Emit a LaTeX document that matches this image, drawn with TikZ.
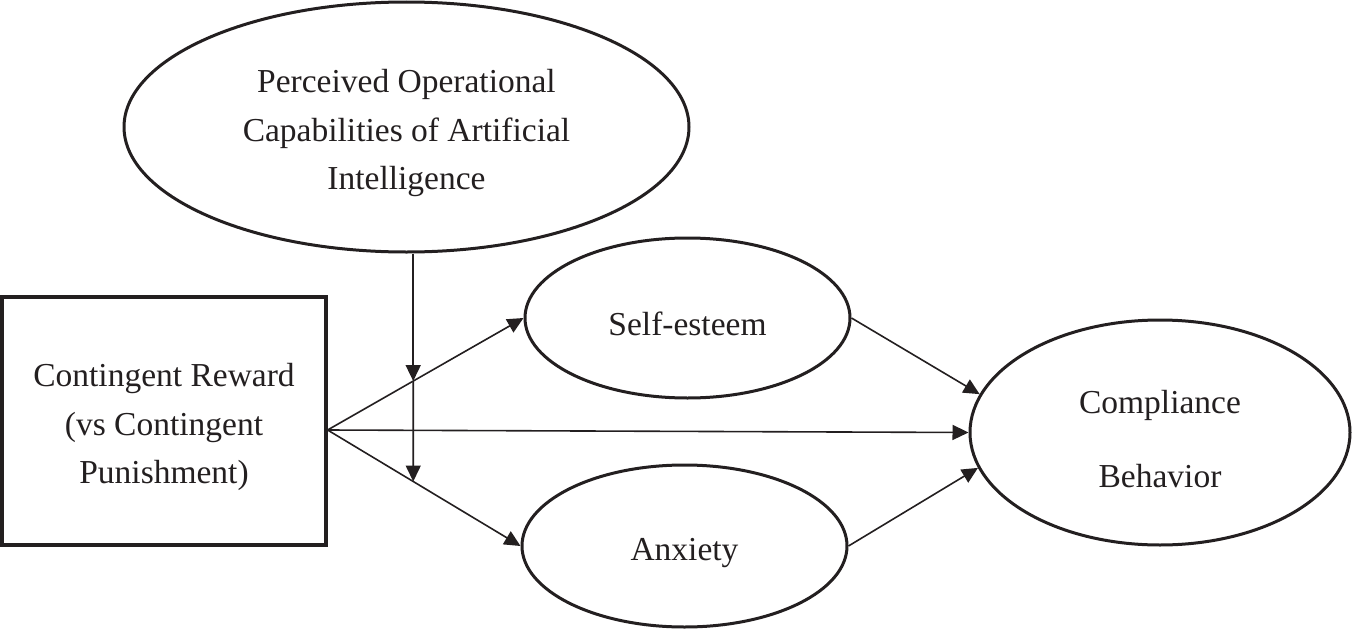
\documentclass[tikz,border=0pt]{standalone}
\usepackage{fontspec}
\setmainfont{Liberation Serif}
\usetikzlibrary{shapes.geometric,arrows.meta}
\definecolor{ink}{HTML}{231F20}
\newcommand\padtop{\rule{0pt}{36pt}}
\tikzset{
  txt/.style={font=\fontsize{33.5}{48.5}\selectfont, align=center, text=ink, inner sep=0pt},
  oval/.style={ellipse, draw=ink, line width=3pt, txt},
  boxnode/.style={rectangle, draw=ink, line width=3.2pt, txt},
  arr/.style={draw=ink, line width=1.6pt, -{Triangle[length=16pt,width=15pt]}}
}
\begin{document}
\begin{tikzpicture}[x=1pt,y=-1pt]
\useasboundingbox (0,0) rectangle (1353,629);
\node[oval, minimum width=565pt, minimum height=250pt] (top) at (406.5,127)
  {\padtop Perceived Operational\\Capabilities of Artificial\\Intelligence};
\node[boxnode, minimum width=324pt, minimum height=248pt] (box) at (164,421)
  {\padtop Contingent Reward\\(vs Contingent\\Punishment)};
\node[oval, minimum width=325pt, minimum height=160pt] (se) at (687.5,318) {\padtop Self-esteem};
\node[oval, minimum width=325pt, minimum height=162pt] (anx) at (684.5,546) {\padtop Anxiety};
\node[oval, minimum width=380pt, minimum height=225pt] (comp) at (1160,432.5)
  {\padtop Compliance\\[25pt]Behavior};
\coordinate (src) at ([yshift=-9pt]box.east);
\path (src) -- (se.west) coordinate[pos=0.437] (m1);
\path (src) -- (anx.west) coordinate[pos=0.444] (m2);
\draw[arr] (src) -- (se.west);
\draw[arr] (src) -- (anx.west);
\draw[arr] (src) -- (comp.west);
\draw[arr] (se.east) -- (comp.168);
\draw[arr] (anx.east) -- (comp.191);
\draw[arr] (top.south -| m1) -- (m1);
\draw[arr] (m1) -- (m2);
\end{tikzpicture}
\end{document}
